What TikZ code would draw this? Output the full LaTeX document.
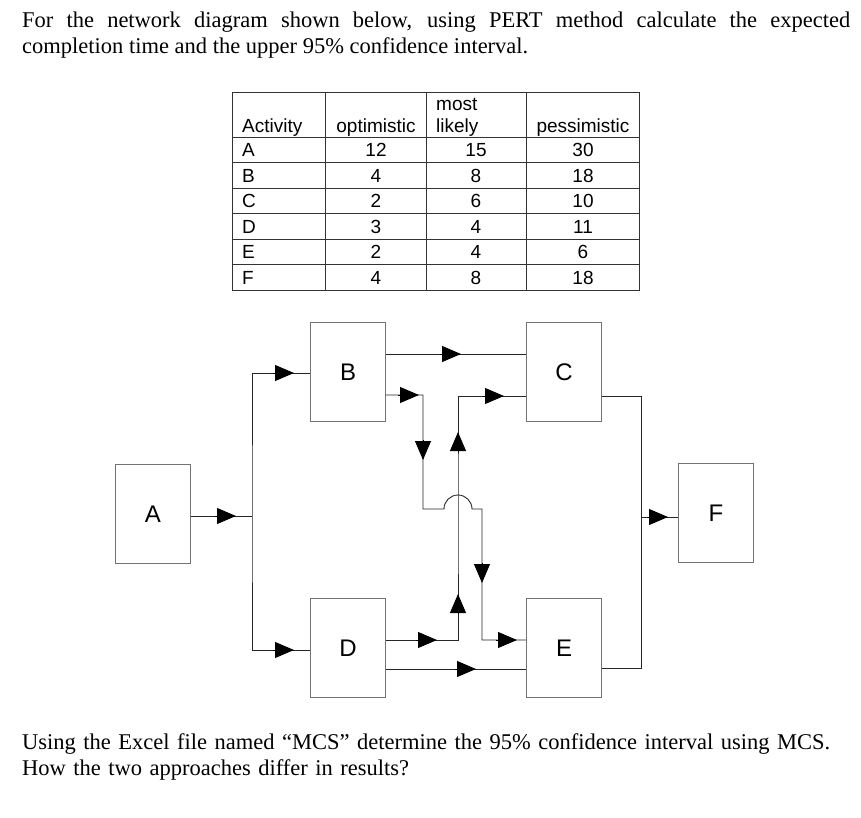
\documentclass[tikz,border=0pt]{standalone}
\usepackage{fontspec}
\setmainfont{Liberation Serif}
\newfontfamily\tabfont{Liberation Sans}
\usetikzlibrary{arrows.meta,positioning}

\tikzset{
    box/.style={draw=black!55, line width=0.9pt, minimum width=75pt, minimum height=99pt, font=\tabfont\fontsize{24}{26}\selectfont},
    link/.style={draw=black!85, line width=0.9pt},
    tip/.style={-{Triangle[length=19pt,width=16pt]}, line width=0.9pt},
    cell/.style={font=\tabfont\fontsize{19}{21}\selectfont, inner sep=0pt}
}

\begin{document}
\begin{tikzpicture}[x=1pt, y=-1pt]
    \useasboundingbox (0,0) rectangle (861,818);

    % question text
    \node[anchor=north west, inner sep=0pt, text width=828pt, align=justify,
          font=\fontsize{22.5}{26}\selectfont] (top) at (22,12)
        {For the network diagram shown below, using PERT method calculate the expected\linebreak completion time and the upper 95\% confidence interval.};
    \node[anchor=north west, inner sep=0pt, text width=830pt, align=left,
          font=\fontsize{22.5}{26}\selectfont] (bottom) at (22,733)
        {Using the Excel file named “MCS” determine the 95\% confidence interval using MCS.\\How the two approaches differ in results?};

    % table
    \draw[black!80, line width=0.8pt] (232,92) rectangle (639,290);
    \foreach \x in {325,426,526}
        \draw[black!80, line width=0.8pt] (\x,92) -- (\x,290);
    \foreach \y in {137,162,188,213,239,264}
        \draw[black!80, line width=0.8pt] (232,\y) -- (639,\y);
    \node[cell, anchor=base west] at (242,133) {Activity};
    \node[cell, anchor=base] at (376,133) {optimistic};
    \node[cell, anchor=base west] at (436,111) {most};
    \node[cell, anchor=base west] at (436,133) {likely};
    \node[cell, anchor=base] at (583,133) {pessimistic};
    \foreach \act/\opt/\ml/\pes [count=\i from 0] in
        {A/12/15/30, B/4/8/18, C/2/6/10, D/3/4/11, E/2/4/6, F/4/8/18} {
        \pgfmathsetmacro\yb{157+25.4*\i}
        \node[cell, anchor=base west] at (242,\yb) {\act};
        \node[cell, anchor=base] at (376,\yb) {\opt};
        \node[cell, anchor=base] at (476,\yb) {\ml};
        \node[cell, anchor=base] at (583,\yb) {\pes};
    }

    % activities
    \node[box] (A) at (153,514) {A};
    \node[box] (B) at (348,372) {B};
    \node[box] (C) at (564,372) {C};
    \node[box] (D) at (348,648) {D};
    \node[box] (E) at (564,648) {E};
    \node[box] (F) at (716,513) {F};

    % junctions
    \coordinate (split) at (252,516);
    \coordinate (join) at (641,517);
    \coordinate (hop) at (458,509);

    % connectors
    \draw[link] (A.east |- split) -- (split);
    \draw[link] (B.west |- 0,373) -| (split) |- (D.west |- 0,650);
    \draw[link] (B.east |- 0,354) -- (C.west |- 0,354);
    \draw[link] (B.east |- 0,395) -| (423,509) -- (444,509)
        arc[start angle=180, end angle=360, radius=14] -- (482,509) |- (E.west |- 0,640);
    \draw[link] (D.east |- 0,640) -| (hop) -- (458,396) -- (C.west |- 0,396);
    \draw[link] (D.east |- 0,669) -- (E.west |- 0,669);
    \draw[link] (C.east |- 0,396) -| (join) |- (E.east |- 0,668);
    \draw[link] (join) -- (F.west |- join);

    % arrow marks
    \draw[tip] (215,516) -- (236,516);
    \draw[tip] (273,373) -- (294,373);
    \draw[tip] (273,650) -- (294,650);
    \draw[tip] (440,354) -- (461,354);
    \draw[tip] (398,395) -- (419,395);
    \draw[tip] (423,440) -- (423,460);
    \draw[tip] (458,452) -- (458,432);
    \draw[tip] (482,563) -- (482,583);
    \draw[tip] (458,614) -- (458,594);
    \draw[tip] (483,396) -- (504,396);
    \draw[tip] (416,640) -- (437,640);
    \draw[tip] (496,640) -- (517,640);
    \draw[tip] (455,669) -- (476,669);
    \draw[tip] (647,517) -- (668,517);
\end{tikzpicture}
\end{document}
